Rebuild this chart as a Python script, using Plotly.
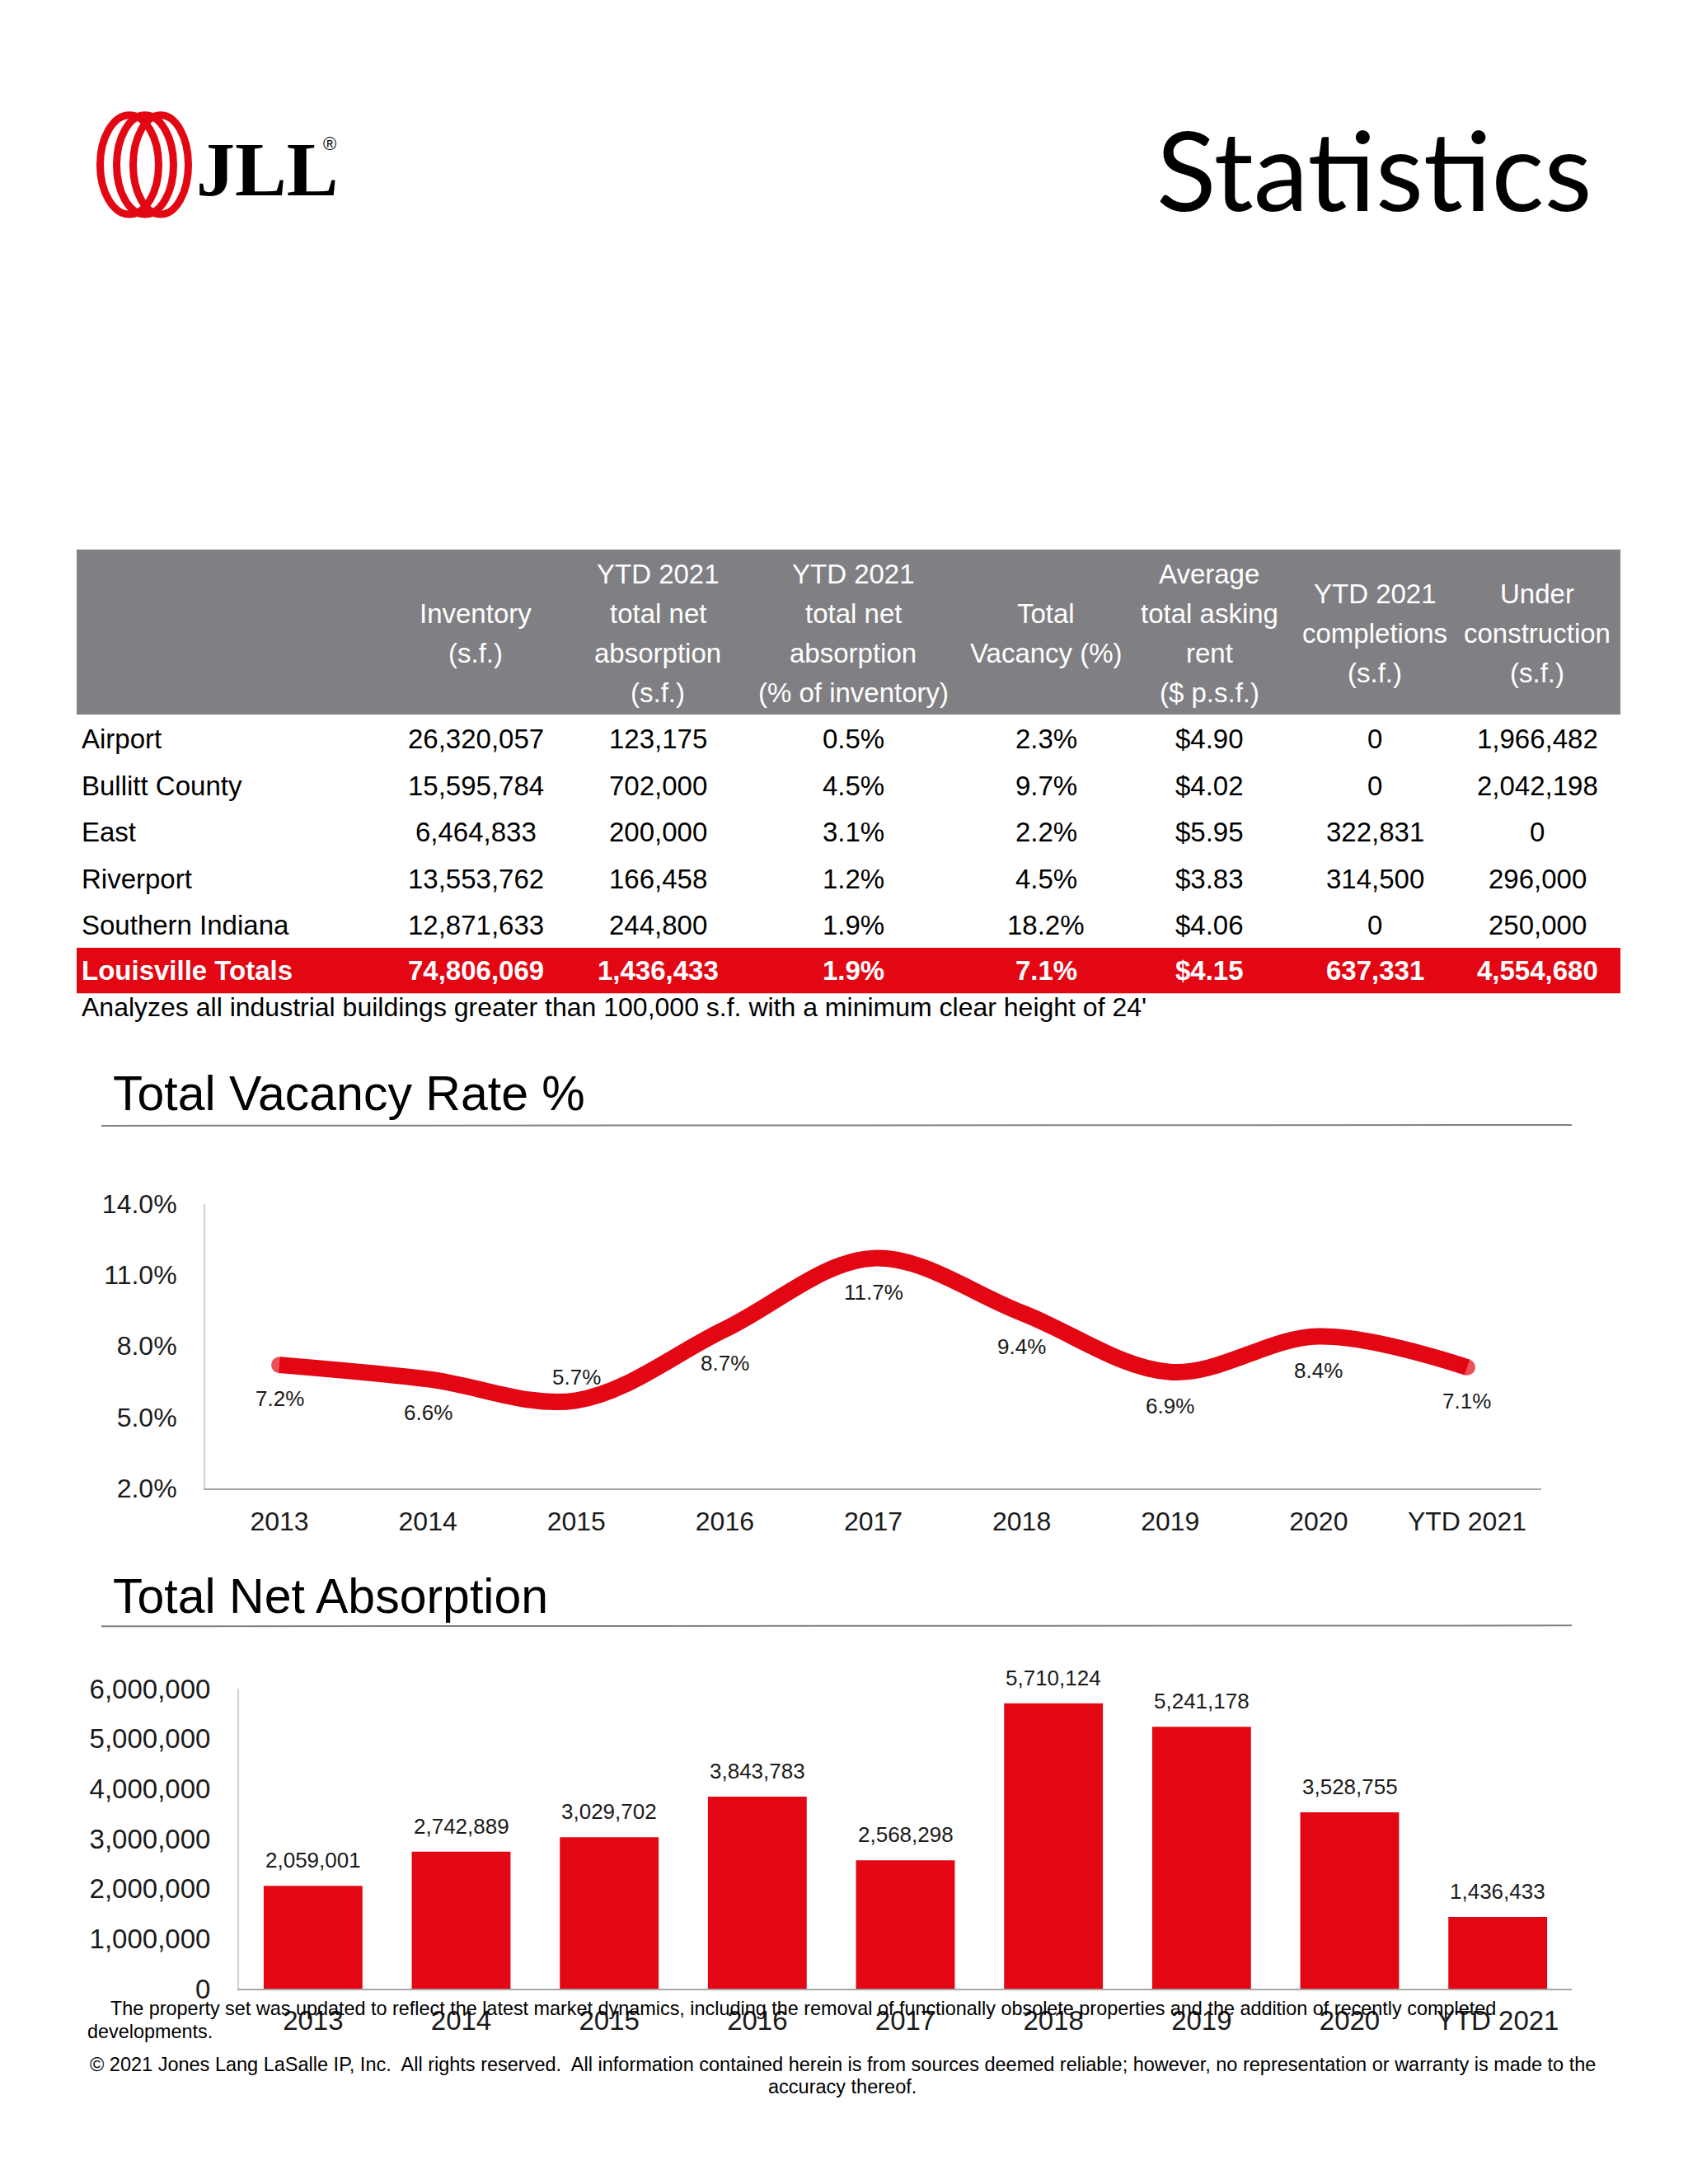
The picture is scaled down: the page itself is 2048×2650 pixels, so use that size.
import plotly.graph_objects as go

# ---------------- data ----------------
years = ["2013", "2014", "2015", "2016", "2017", "2018", "2019", "2020", "YTD 2021"]
vacancy_rate = [7.2, 6.6, 5.7, 8.7, 11.7, 9.4, 6.9, 8.4, 7.1]
net_absorption = [2059001, 2742889, 3029702, 3843783, 2568298, 5710124, 5241178, 3528755, 1436433]

header_lines = [
    ["Inventory", "(s.f.)"],
    ["YTD 2021", "total net", "absorption", "(s.f.)"],
    ["YTD 2021", "total net", "absorption", "(% of inventory)"],
    ["Total", "Vacancy (%)"],
    ["Average", "total asking", "rent", "($ p.s.f.)"],
    ["YTD 2021", "completions", "(s.f.)"],
    ["Under", "construction", "(s.f.)"],
]
regions = ["Airport", "Bullitt County", "East", "Riverport", "Southern Indiana"]
inventory = [26320057, 15595784, 6464833, 13553762, 12871633]
ytd_absorption = [123175, 702000, 200000, 166458, 244800]
absorption_pct = [0.5, 4.5, 3.1, 1.2, 1.9]
total_vacancy = [2.3, 9.7, 2.2, 4.5, 18.2]
asking_rent = [4.90, 4.02, 5.95, 3.83, 4.06]
completions = [0, 0, 322831, 314500, 0]
under_construction = [1966482, 2042198, 0, 296000, 250000]
totals_label = "Louisville Totals"
totals = [74806069, 1436433, 1.9, 7.1, 4.15, 637331, 4554680]

table_note = "Analyzes all industrial buildings greater than 100,000 s.f. with a minimum clear height of 24'"
vac_title = "Total Vacancy Rate %"
abs_title = "Total Net Absorption"
page_title = "Statistics"
foot1 = ["The property set was updated to reflect the latest market dynamics, including the removal of functionally obsolete properties and the addition of recently completed",
         "developments."]
foot2 = ["© 2021 Jones Lang LaSalle IP, Inc.  All rights reserved.  All information contained herein is from sources deemed reliable; however, no representation or warranty is made to the",
         "accuracy thereof."]

# ---------------- styling / layout helpers ----------------
W, H = 2048, 2650
RED = "#E30613"
HDR_GRAY = "#807F83"
ARIAL = "Liberation Sans, Arial, Helvetica, sans-serif"
TABLE_FONT = "Liberation Sans Narrow, Arial Narrow, Liberation Sans, Arial, sans-serif"


def px(x):
    return x / W


def py(y):
    return 1 - y / H


def ann(text, x, y, size, color="black", family=ARIAL, xanchor="center", yanchor="middle", align="center"):
    return dict(text=text, x=px(x), y=py(y), xref="paper", yref="paper", showarrow=False,
                font=dict(size=size, color=color, family=family),
                xanchor=xanchor, yanchor=yanchor, align=align)


def fmt_int(v):
    return f"{v:,}"


def fmt_pct(v):
    return f"{v:.1f}%"


def fmt_money(v):
    return f"${v:.2f}"


col_fmt = [fmt_int, fmt_int, fmt_pct, fmt_pct, fmt_money, fmt_int, fmt_int]
col_data = [inventory, ytd_absorption, absorption_pct, total_vacancy, asking_rent, completions, under_construction]

fig = go.Figure()

# vacancy line
end_sizes = [20 if i in (0, len(years) - 1) else 0 for i in range(len(years))]
fig.add_trace(go.Scatter(
    x=years, y=vacancy_rate, mode="lines+markers",
    line=dict(color=RED, width=20, shape="spline", smoothing=1.0),
    marker=dict(color=RED, size=end_sizes, line=dict(width=0)),
    xaxis="x", yaxis="y", showlegend=False, hoverinfo="skip", cliponaxis=False,
))

# absorption bars
fig.add_trace(go.Bar(
    x=years, y=net_absorption, marker=dict(color=RED, line=dict(width=0)),
    xaxis="x2", yaxis="y2", showlegend=False, hoverinfo="skip",
))

annotations = []
shapes = []

# ---------- header: logo + title ----------
ring_x0 = [117, 137, 157]
ring_x1 = [197, 215, 233]
for a, b in zip(ring_x0, ring_x1):
    shapes.append(dict(type="circle", xref="paper", yref="paper",
                       x0=px(a + 4.5), x1=px(b - 4.5), y0=py(123.5), y1=py(245.5),
                       line=dict(color=RED, width=9), fillcolor="rgba(0,0,0,0)"))
annotations.append(ann("<b>JLL</b>", 236, 190, 94, family="Liberation Serif, Times New Roman, serif",
                       xanchor="left"))
annotations.append(ann("®", 400, 159, 22, family=ARIAL))
annotations.append(ann(page_title, 1934, 189, 134, family="Lato, Open Sans, sans-serif", xanchor="right"))

# ---------- table ----------
shapes.append(dict(type="rect", xref="paper", yref="paper", x0=px(93), x1=px(1966), y0=py(658), y1=py(861),
                   fillcolor=HDR_GRAY, line=dict(width=0), layer="below"))
shapes.append(dict(type="rect", xref="paper", yref="paper", x0=px(93), x1=px(1966), y0=py(1148), y1=py(1204),
                   fillcolor=RED, line=dict(width=0), layer="below"))

col_x = [577, 798, 1035, 1269, 1467, 1668, 1865]
row_y = [891, 949, 1006, 1063, 1120]
TSIZE = 33
HDR_CENTER = 761
HDR_STEP = 48.5
for cx, lines in zip(col_x, header_lines):
    n = len(lines)
    for k, line in enumerate(lines):
        ly = HDR_CENTER + (k - (n - 1) / 2) * HDR_STEP
        annotations.append(ann(line, cx, ly, TSIZE, color="white", family=TABLE_FONT))

for r, (name, ry) in enumerate(zip(regions, row_y)):
    annotations.append(ann(name, 97, ry, TSIZE, family=TABLE_FONT, xanchor="left"))
    for c, cx in enumerate(col_x):
        annotations.append(ann(col_fmt[c](col_data[c][r]), cx, ry, TSIZE, family=TABLE_FONT))

annotations.append(ann("<b>" + totals_label + "</b>", 97, 1176, TSIZE, color="white", family=TABLE_FONT, xanchor="left"))
for c, cx in enumerate(col_x):
    annotations.append(ann("<b>" + col_fmt[c](totals[c]) + "</b>", cx, 1176, TSIZE, color="white", family=TABLE_FONT))

annotations.append(ann(table_note, 97, 1221, 32, family=TABLE_FONT, xanchor="left"))

# ---------- chart titles ----------
annotations.append(ann(vac_title, 135, 1328, 59, xanchor="left"))
shapes.append(dict(type="line", xref="paper", yref="paper", x0=px(123), x1=px(1907), y0=py(1367), y1=py(1366),
                   line=dict(color="#808080", width=2)))
annotations.append(ann(abs_title, 135, 1946, 59, xanchor="left"))
shapes.append(dict(type="line", xref="paper", yref="paper", x0=px(123), x1=px(1907), y0=py(1983), y1=py(1982),
                   line=dict(color="#808080", width=2)))

# ---------- data labels (x given as category index) ----------
for i, v in enumerate(vacancy_rate):
    shift = 28 if i == 2 else -41
    annotations.append(dict(text=fmt_pct(v), x=i, y=v, xref="x", yref="y", showarrow=False,
                            yshift=shift, font=dict(size=26, color="#1a1a1a", family=ARIAL)))
for i, v in enumerate(net_absorption):
    annotations.append(dict(text=fmt_int(v), x=i, y=v, xref="x2", yref="y2", showarrow=False,
                            yshift=31, font=dict(size=26, color="#1a1a1a", family=ARIAL)))

# ---------- footnotes ----------
annotations.append(ann(foot1[0], 132, 2453, 23.4, xanchor="left"))
annotations.append(ann(foot1[1], 104, 2482, 23.4, xanchor="left"))
annotations.append(ann(foot2[0], 1022, 2522, 23.5))
annotations.append(ann(foot2[1], 1022, 2550, 23.5))

axis_font = dict(size=32, color="#1a1a1a", family=ARIAL)
fig.update_layout(
    width=W, height=H, margin=dict(l=0, r=0, t=0, b=0),
    paper_bgcolor="white", plot_bgcolor="white",
    bargap=0.333, showlegend=False,
    annotations=annotations, shapes=shapes,
    xaxis=dict(domain=[px(249), px(1870)], anchor="y", type="category", range=[-0.5, 8.5],
               showline=True, linecolor="#A6A6A6", linewidth=2, showgrid=False, zeroline=False,
               ticks="", tickfont=axis_font, ticklabelstandoff=11, fixedrange=True),
    yaxis=dict(domain=[py(1813), py(1463)], anchor="x", range=[2, 14], tick0=2, dtick=3,
               tickformat=".1f", ticksuffix="%", showline=True, linecolor="#D0D0D0", linewidth=2,
               showgrid=False, zeroline=False, ticks="", tickfont=axis_font, ticklabelstandoff=26,
               fixedrange=True),
    xaxis2=dict(domain=[px(290), px(1907)], anchor="y2", type="category", range=[-0.5, 8.5],
                showline=True, linecolor="#A6A6A6", linewidth=2, showgrid=False, zeroline=False,
                ticks="", tickfont=dict(size=33, color="#1a1a1a", family=ARIAL), ticklabelstandoff=8,
                fixedrange=True),
    yaxis2=dict(domain=[py(2429), py(2060)], anchor="x2", range=[0, 6000000], dtick=1000000,
                tickformat=",d", showline=True, linecolor="#D0D0D0", linewidth=2, showgrid=False,
                zeroline=False, ticks="", tickfont=dict(size=33, color="#1a1a1a", family=ARIAL),
                ticklabelstandoff=26, fixedrange=True),
)

fig.write_html("out.html", config={"displayModeBar": False},
               post_script="document.body.style.margin='0';")
